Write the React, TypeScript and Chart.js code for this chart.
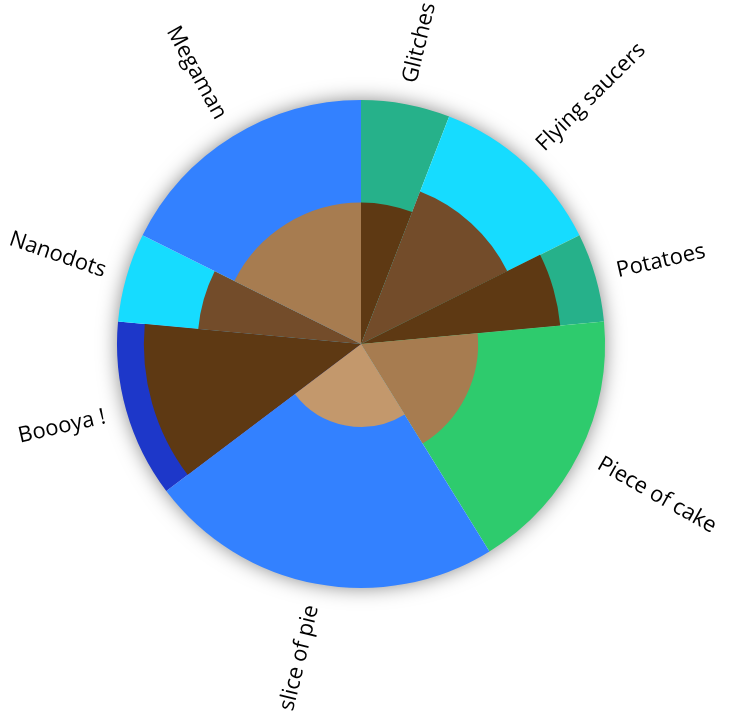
import React, { useEffect, useRef } from "react";
import { Chart, registerables } from "chart.js";

Chart.register(...registerables);

const categories = [
  "Glitches",
  "Flying saucers",
  "Potatoes",
  "Piece of cake",
  "slice of pie",
  "Boooya !",
  "Nanodots",
  "Megaman",
];
const sliceWeights = [1, 2, 1, 3, 4, 2, 1, 3];
const outerValues = [100, 100, 100, 100, 100, 100, 100, 100];
const innerValues = [58, 67, 82, 48, 34, 89, 67, 58];
const outerColors = [
  "#26b18a",
  "#16dcff",
  "#26b18a",
  "#2ecb6d",
  "#3381ff",
  "#1d37c9",
  "#16dcff",
  "#3381ff",
];
const innerColors = [
  "#5e3913",
  "#734c2a",
  "#5e3913",
  "#a77c50",
  "#c3986c",
  "#5e3913",
  "#734c2a",
  "#a77c50",
];

const totalWeight = sliceWeights.reduce((a, b) => a + b, 0);
const angleFor = (ctx: any) => (sliceWeights[ctx.dataIndex] / totalWeight) * 360;

const shadowPlugin = {
  id: "circleShadow",
  beforeDatasetsDraw(chart: any) {
    const scale = chart.scales.r;
    const ctx = chart.ctx;
    ctx.save();
    ctx.shadowColor = "rgba(0,0,0,0.5)";
    ctx.shadowBlur = 20;
    ctx.fillStyle = "#ffffff";
    ctx.beginPath();
    ctx.arc(scale.xCenter, scale.yCenter, scale.drawingArea - 1, 0, Math.PI * 2);
    ctx.fill();
    ctx.restore();
  },
};

const labelTilt = (3 * Math.PI) / 180;

const labelPlugin = {
  id: "radialLabels",
  afterDatasetsDraw(chart: any) {
    const meta = chart.getDatasetMeta(1);
    const ctx = chart.ctx;
    ctx.save();
    ctx.font = '22px "Open Sans"';
    ctx.fillStyle = "#000000";
    ctx.textBaseline = "middle";
    meta.data.forEach((arc: any, i: number) => {
      const p = arc.getProps(["x", "y", "startAngle", "endAngle", "outerRadius"], true);
      const mid = (p.startAngle + p.endAngle) / 2;
      const r = p.outerRadius + 22;
      const x = p.x + Math.cos(mid) * r;
      const y = p.y + Math.sin(mid) * r;
      ctx.save();
      ctx.translate(x, y);
      if (Math.cos(mid) >= 0) {
        ctx.rotate(mid + labelTilt);
        ctx.textAlign = "left";
      } else {
        ctx.rotate(mid + Math.PI + labelTilt);
        ctx.textAlign = "right";
      }
      ctx.fillText(categories[i], 0, 0);
      ctx.restore();
    });
    ctx.restore();
  },
};

export default function App() {
  const canvasRef = useRef<HTMLCanvasElement | null>(null);

  useEffect(() => {
    if (!canvasRef.current) return;
    const chart = new Chart(canvasRef.current, {
      type: "polarArea",
      data: {
        labels: categories,
        datasets: [
          {
            data: innerValues,
            backgroundColor: innerColors,
            borderWidth: 0,
            angle: angleFor,
          } as any,
          {
            data: outerValues,
            backgroundColor: outerColors,
            borderWidth: 0,
            angle: angleFor,
          } as any,
        ],
      },
      options: {
        responsive: true,
        maintainAspectRatio: false,
        animation: false,
        layout: { padding: { left: 117, right: 132, top: 100, bottom: 134 } },
        plugins: {
          legend: { display: false },
          tooltip: { enabled: false },
        },
        scales: {
          r: {
            display: false,
            min: 0,
            max: 100,
            startAngle: 0,
          },
        },
      },
      plugins: [shadowPlugin, labelPlugin],
    });
    return () => chart.destroy();
  }, []);

  return (
    <div style={{ position: "fixed", left: 0, top: 0, width: 737, height: 722, background: "#ffffff" }}>
      <canvas ref={canvasRef} />
    </div>
  );
}
